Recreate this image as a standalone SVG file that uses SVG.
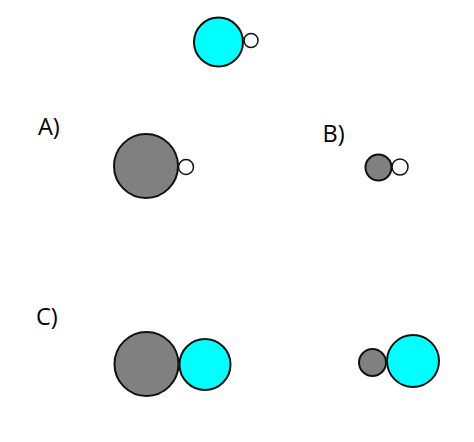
<svg xmlns="http://www.w3.org/2000/svg" width="474" height="442" viewBox="0 0 474 442">
<style>
.g{fill:#808080;stroke:#111;stroke-width:2}
.c{fill:#00FFFF;stroke:#111;stroke-width:2}
.w{fill:#fff;stroke:#111;stroke-width:1.5}
.t{font-family:"Open Sans","Liberation Sans",Arial,sans-serif;font-size:23.5px;fill:#000}
</style>
<rect width="474" height="442" fill="#fff"/>
<g id="top">
<circle class="c" cx="218.5" cy="42" r="24.5"/>
<circle class="w" cx="251" cy="40.5" r="7"/>
</g>
<g id="A">
<text class="t" x="38" y="134.5">A)</text>
<circle class="g" cx="146" cy="166" r="32"/>
<circle class="w" cx="186" cy="167" r="7.5"/>
</g>
<g id="B">
<text class="t" x="322.5" y="141.5">B)</text>
<circle class="g" cx="378.5" cy="167.5" r="13"/>
<circle class="w" cx="400" cy="167" r="8"/>
</g>
<g id="C">
<text class="t" x="36" y="324.5">C)</text>
<circle class="g" cx="146.5" cy="364" r="32"/>
<circle class="c" cx="205" cy="364.5" r="25.5"/>
</g>
<g id="D">
<circle class="g" cx="372.5" cy="362.5" r="13.5"/>
<circle class="c" cx="413" cy="361" r="26"/>
</g>
<g id="connectors"/>
</svg>
